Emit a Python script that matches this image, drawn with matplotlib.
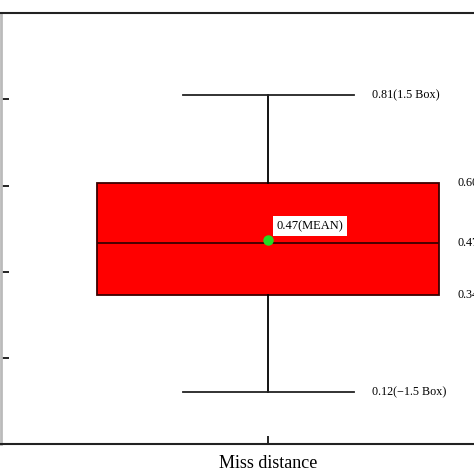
import matplotlib
matplotlib.use("Agg")
import matplotlib.pyplot as plt

plt.rcParams['font.family'] = ['Liberation Serif', 'DejaVu Serif']

# box statistics
label = 'Miss distance'
whisker_hi = 0.81
q3 = 0.605
median = 0.466
q1 = 0.345
whisker_lo = 0.12
mean = 0.473

yticks = [0.2, 0.4, 0.6, 0.8]

stats = [dict(label=label, whishi=whisker_hi, q3=q3, med=median,
              q1=q1, whislo=whisker_lo, mean=mean, fliers=[])]

fig = plt.figure(figsize=(4.74, 4.74), dpi=100)
# axes runs past the right edge, like the cropped original
ax = fig.add_axes([0.002, 0.063, 1.127, 0.909])

ax.bxp(stats, positions=[1], widths=0.64, showmeans=False, patch_artist=True,
       boxprops=dict(facecolor='#ff0000', edgecolor='#3a0000', linewidth=1.3),
       medianprops=dict(color='#3a0000', linewidth=1.3),
       whiskerprops=dict(color='black', linewidth=1.3),
       capprops=dict(color='#222222', linewidth=1.3),
       capwidths=0.32)

ax.plot([1], [mean], 'o', color='#22dd22', markersize=6.5, zorder=5)
ax.annotate(f'{mean:.2f}(MEAN)', (1, mean), xytext=(6, 6), textcoords='offset points',
            fontsize=9, va='bottom', ha='left',
            bbox=dict(boxstyle='square,pad=0.3', facecolor='white', edgecolor='none'))

ax.text(1.195, whisker_hi, f'{whisker_hi:.2f}(1.5 Box)', fontsize=8.7, va='center')
ax.text(1.195, whisker_lo, f'{whisker_lo:.2f}(\u22121.5 Box)', fontsize=8.7, va='center')
for v in [q3, median, q1]:
    ax.text(1.355, v, f'{v:.2f}', fontsize=8.7, va='center')

ax.set_xlim(0.5, 1.5)
ax.set_ylim(0, 1.0)
ax.set_yticks(yticks)
ax.set_xticks([1])
ax.set_xticklabels([label], fontsize=13)
ax.tick_params(axis='both', direction='in', length=6, width=1.2, colors='black', pad=4)
ax.tick_params(axis='x', pad=8)

for side in ['top', 'bottom']:
    ax.spines[side].set_linewidth(1.5)
    ax.spines[side].set_color('#222222')
ax.spines['left'].set_color('#bbbbbb')
ax.spines['left'].set_linewidth(2)

fig.savefig('out.png', dpi=100)
